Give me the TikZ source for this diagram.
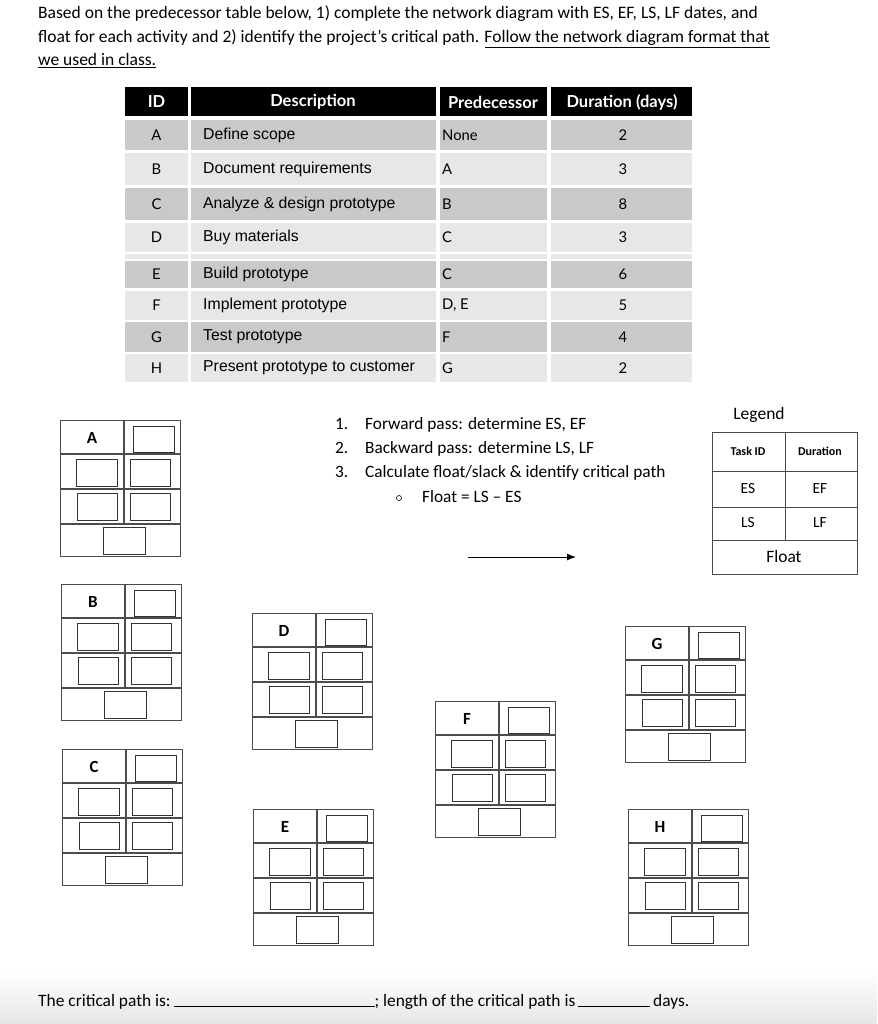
\documentclass[tikz,border=0pt]{standalone}
\usepackage{fontspec}
\setmainfont{Carlito}
\newfontfamily\tabfont{Lato}
\newfontfamily\arialfont{Liberation Sans}
\usetikzlibrary{arrows.meta}
\definecolor{rowdark}{gray}{0.79}
\definecolor{rowlight}{gray}{0.905}
\newcommand\fs[1]{\fontsize{#1}{#1}\selectfont}
\newcommand\actbox[4]{%
  \node[boxline, minimum width=120pt, minimum height=136pt, inner sep=0pt, anchor=north west] (#1) at (#2,#3) {};
  \draw[boxline] (#2,#3+34) -- ++(120,0);
  \draw[boxline] (#2,#3+69) -- ++(120,0);
  \draw[boxline] (#2,#3+104) -- ++(120,0);
  \draw[boxline] (#2+64,#3) -- (#2+64,#3+104);
  \node[font=\bfseries\fs{17}] (#1-id) at (#2+32,#3+18) {#4};
  \draw[inbox] (#2+73,#3+6) rectangle (#2+114,#3+32);
  \draw[inbox] (#2+16,#3+39) rectangle (#2+57,#3+66);
  \draw[inbox] (#2+70,#3+39) rectangle (#2+110,#3+66);
  \draw[inbox] (#2+17,#3+73) rectangle (#2+57,#3+100);
  \draw[inbox] (#2+70,#3+73) rectangle (#2+110,#3+100);
  \draw[inbox] (#2+43,#3+107) rectangle (#2+85,#3+134);
}
\begin{document}
\begin{tikzpicture}[x=1pt,y=-1pt,
  boxline/.style={draw=black!70, line width=1.1pt},
  inbox/.style={draw=black!80, line width=1pt},
  hdrtxt/.style={text=white, font=\tabfont\bfseries\fs{16.5}},
  idtxt/.style={font=\tabfont\fs{14.8}},
  desctxt/.style={font=\arialfont\fs{15.8}, anchor=west, inner sep=0pt},
  predtxt/.style={font=\tabfont\fs{14.8}, anchor=west, inner sep=0pt},
  plain/.style={font=\fs{17.5}, anchor=base west, inner sep=0pt},
  listtxt/.style={font=\fs{17.3}, anchor=base west, inner sep=0pt},
  legtxt/.style={font=\fs{15.5}},
  legsmall/.style={font=\bfseries\fs{12}}]
\useasboundingbox (0,0) rectangle (877,1024);
\fill[white] (0,0) rectangle (877,1024);
\shade[top color=white, bottom color=black!10] (0,972) rectangle (877,1024);

% title
\node[plain] (t1) at (38,19) {Based on the predecessor table below, 1) complete the network diagram with ES, EF, LS, LF dates, and};
\node[plain] (t2) at (38,43) {float for each activity and 2) identify the project’s critical path. \underline{Follow the network diagram format that}};
\node[plain] (t3) at (38,66) {\underline{we used in class.}};

% table
\foreach \xa/\xb in {125/188,191/436,440/547,551/692}
  \fill[black] (\xa,87) rectangle (\xb,116);
\foreach \ya/\yb/\st in {120/150/rowdark,153/185/rowlight,188/220/rowdark,223/252/rowlight,254/259/rowlight,261/288/rowdark,291/320/rowlight,322/352/rowdark,354/382/rowlight}
  \foreach \xa/\xb in {125/188,191/436,440/547,551/692}
    \fill[\st] (\xa,\ya) rectangle (\xb,\yb);
\node[hdrtxt] (h1) at (156.5,102) {ID};
\node[hdrtxt] (h2) at (313,102) {Description};
\node[hdrtxt] (h3) at (493,102) {Predecessor};
\node[hdrtxt] (h4) at (622,102) {Duration (days)};
\foreach \id/\desc/\pred/\dur/\yy in {A/Define scope/None/2/135,B/Document requirements/A/3/169,C/Analyze \& design prototype/B/8/204,D/Buy materials/C/3/237,E/Build prototype/C/6/274,F/Implement prototype/{D, E}/5/305,G/Test prototype/F/4/337,H/Present prototype to customer/G/2/368}{
  \node[idtxt] (r\id-id) at (156.5,\yy) {\id};
  \node[desctxt] (r\id-desc) at (203,\yy) {\desc};
  \node[predtxt] (r\id-pred) at (442,\yy) {\pred};
  \node[idtxt] (r\id-dur) at (623,\yy) {\dur};
}

% activity boxes
\actbox{A}{60}{420}{A}
\actbox{B}{61}{584}{B}
\actbox{C}{62}{749}{C}
\actbox{D}{252}{613}{D}
\actbox{E}{253}{809}{E}
\actbox{F}{435}{701}{F}
\actbox{G}{625}{626}{G}
\actbox{H}{628}{809}{H}

% instructions
\node[listtxt] (n1) at (335,429) {1.};
\node[listtxt] (l1) at (365,429) {Forward pass: determine ES, EF};
\node[listtxt] (n2) at (335,453) {2.};
\node[listtxt] (l2) at (365,453) {Backward pass: determine LS, LF};
\node[listtxt] (n3) at (335,477) {3.};
\node[listtxt] (l3) at (365,477) {Calculate float/slack \& identify critical path};
\node[draw, circle, line width=0.6pt, inner sep=0pt, minimum size=5pt] (bul) at (399,498) {};
\node[listtxt] (l4) at (422,502) {Float = LS – ES};

% arrow
\coordinate (arrS) at (468,557);
\coordinate (arrE) at (576,557);
\draw[line width=1pt, -{Latex[length=9pt,width=7pt]}] (arrS) -- (arrE);

% legend
\node[font=\fs{17.5}] (legtitle) at (759,415) {Legend};
\node[draw=black!70, line width=1pt, minimum width=145pt, minimum height=142pt, inner sep=0pt, anchor=north west] (leg) at (712,432) {};
\draw[draw=black!70, line width=1pt] (712,471) -- (857,471);
\draw[draw=black!70, line width=1pt] (712,507) -- (857,507);
\draw[draw=black!70, line width=1pt] (712,540) -- (857,540);
\draw[draw=black!70, line width=1pt] (785,432) -- (785,540);
\node[legsmall] (lg1) at (748,451) {Task ID};
\node[legsmall] (lg2) at (820,451) {Duration};
\node[legtxt] (lg3) at (748,489) {ES};
\node[legtxt] (lg4) at (820,489) {EF};
\node[legtxt] (lg5) at (748,523) {LS};
\node[legtxt] (lg6) at (820,523) {LF};
\node[font=\fs{17.4}] (lg7) at (784,557) {Float};

% bottom line
\node[font=\fs{17.4}, anchor=base west, inner sep=0pt] (bottom) at (38,1006) {The critical path is:\,\rule[-1pt]{201pt}{0.7pt}; length of the critical path is\,\rule[-1pt]{72pt}{0.7pt}\,days.};
\end{tikzpicture}
\end{document}
